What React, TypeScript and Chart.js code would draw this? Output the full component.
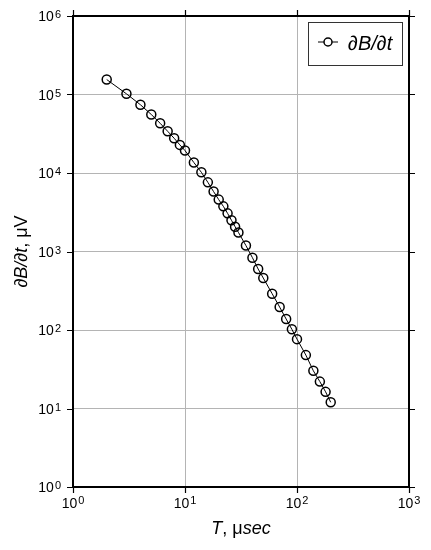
import React, { useEffect, useRef } from "react";
import { Chart, registerables } from "chart.js";

Chart.register(...registerables);

const seriesLabel = "∂B/∂t";
const timeValues = [2, 3, 4, 5, 6, 7, 8, 9, 10, 12, 14, 16, 18, 20, 22, 24, 26, 28, 30, 35, 40, 45, 50, 60, 70, 80, 90, 100, 120, 140, 160, 180, 200];
const dbdtValues = [155000, 102000, 74000, 55600, 43000, 34000, 27700, 22800, 19300, 13600, 10200, 7600, 5800, 4580, 3760, 3060, 2500, 2070, 1750, 1190, 834, 598, 459, 290, 196, 138, 102, 76.5, 47.9, 30.2, 22, 16.3, 12];
const xTickValues = [1, 10, 100, 1000];
const yTickValues = [1, 10, 100, 1000, 10000, 100000, 1000000];

const FONT = '"Liberation Sans", Helvetica, Arial, sans-serif';

function drawSegments(ctx: CanvasRenderingContext2D, segs: [string, string][], x: number, y: number, center: boolean) {
  let total = 0;
  for (const [t, f] of segs) {
    ctx.font = f;
    total += ctx.measureText(t).width;
  }
  let cx = center ? x - total / 2 : x;
  ctx.textAlign = "left";
  for (const [t, f] of segs) {
    ctx.font = f;
    ctx.fillText(t, cx, y);
    cx += ctx.measureText(t).width;
  }
}

const decorPlugin = {
  id: "decor",
  afterDraw(chart: any) {
    const ctx: CanvasRenderingContext2D = chart.ctx;
    const { left, right, top, bottom } = chart.chartArea;
    const xs = chart.scales.x;
    const ys = chart.scales.y;
    ctx.save();
    ctx.fillStyle = "#000";
    ctx.strokeStyle = "#000";
    // ticks
    ctx.lineWidth = 1.2;
    ctx.beginPath();
    for (const v of xTickValues) {
      const px = Math.round(xs.getPixelForValue(v)) + 0.5;
      ctx.moveTo(px, bottom);
      ctx.lineTo(px, bottom + 6);
      ctx.moveTo(px, top);
      ctx.lineTo(px, top - 6);
    }
    for (const v of yTickValues) {
      const py = Math.round(ys.getPixelForValue(v)) + 0.5;
      ctx.moveTo(left, py);
      ctx.lineTo(left - 6, py);
      ctx.moveTo(right, py);
      ctx.lineTo(right + 6, py);
    }
    ctx.stroke();
    // frame
    ctx.lineWidth = 2;
    ctx.strokeRect(left, top, right - left, bottom - top);

    // tick labels
    ctx.textBaseline = "alphabetic";
    const main = `14px ${FONT}`;
    const sup = `11px ${FONT}`;
    for (const v of xTickValues) {
      const px = xs.getPixelForValue(v);
      const e = String(Math.round(Math.log10(v)));
      ctx.font = main;
      const w1 = ctx.measureText("10").width;
      ctx.font = sup;
      const w2 = ctx.measureText(e).width;
      const x0 = px - (w1 + 1 + w2) / 2;
      ctx.font = main;
      ctx.textAlign = "left";
      ctx.fillText("10", x0, 508);
      ctx.font = sup;
      ctx.fillText(e, x0 + w1 + 1, 504);
    }
    for (const v of yTickValues) {
      const py = ys.getPixelForValue(v);
      const e = String(Math.round(Math.log10(v)));
      ctx.font = sup;
      const w2 = ctx.measureText(e).width;
      ctx.textAlign = "left";
      ctx.fillText(e, 61 - w2, py + 2);
      ctx.font = main;
      ctx.textAlign = "right";
      ctx.fillText("10", 61 - w2 - 1, py + 5);
    }

    // x title
    ctx.textBaseline = "alphabetic";
    const it = `italic 18px ${FONT}`;
    const nm = `18px ${FONT}`;
    drawSegments(ctx, [["T", it], [", ", nm], ["μ", nm], ["sec", it]], (left + right) / 2, 534, true);
    // y title
    ctx.save();
    ctx.translate(27, (top + bottom) / 2);
    ctx.rotate(-Math.PI / 2);
    drawSegments(ctx, [["∂B/∂t", it], [", ", nm], ["μV", nm]], 0, 0, true);
    ctx.restore();

    // legend
    const lx = 308, ly = 22, lw = 94, lh = 43;
    ctx.fillStyle = "#fff";
    ctx.fillRect(lx, ly, lw, lh);
    ctx.strokeStyle = "#333";
    ctx.lineWidth = 1;
    ctx.strokeRect(lx + 0.5, ly + 0.5, lw, lh);
    ctx.strokeStyle = "#000";
    ctx.beginPath();
    ctx.moveTo(318, 42);
    ctx.lineTo(338, 42);
    ctx.stroke();
    ctx.lineWidth = 1.5;
    ctx.beginPath();
    ctx.arc(328, 42, 4, 0, Math.PI * 2);
    ctx.fillStyle = "#fff";
    ctx.fill();
    ctx.stroke();
    ctx.fillStyle = "#000";
    ctx.font = `italic 20px ${FONT}`;
    ctx.textAlign = "left";
    ctx.fillText(chart.data.datasets[0].label, 348, 50);
    ctx.restore();
  },
};

export default function App() {
  const ref = useRef<HTMLCanvasElement>(null);
  useEffect(() => {
    if (!ref.current) return;
    const chart = new Chart(ref.current, {
      type: "line",
      data: {
        labels: timeValues,
        datasets: [
          {
            label: seriesLabel,
            data: timeValues.map((t, i) => ({ x: t, y: dbdtValues[i] })),
            borderColor: "#000",
            borderWidth: 1,
            pointRadius: 4.5,
            pointBorderWidth: 1.5,
            pointBorderColor: "#000",
            pointBackgroundColor: "rgba(0,0,0,0)",
            fill: false,
            tension: 0,
          },
        ],
      },
      options: {
        responsive: false,
        animation: false,
        events: [],
        layout: { padding: { top: 16, right: 22, left: 0, bottom: 0 } },
        plugins: { legend: { display: false }, tooltip: { enabled: false } },
        scales: {
          x: {
            type: "logarithmic",
            min: 1,
            max: 1000,
            afterBuildTicks: (s: any) => {
              s.ticks = xTickValues.map((v) => ({ value: v }));
            },
            afterFit: (s: any) => {
              s.height = 63;
            },
            ticks: { display: false },
            grid: { color: "#b4b4b4", lineWidth: 1, drawTicks: false },
            border: { display: false },
          },
          y: {
            type: "logarithmic",
            min: 1,
            max: 1000000,
            afterBuildTicks: (s: any) => {
              s.ticks = yTickValues.map((v) => ({ value: v }));
            },
            afterFit: (s: any) => {
              s.width = 73;
            },
            ticks: { display: false },
            grid: { color: "#b4b4b4", lineWidth: 1, drawTicks: false },
            border: { display: false },
          },
        },
      },
      plugins: [decorPlugin],
    } as any);
    return () => chart.destroy();
  }, []);
  return (
    <div style={{ position: "fixed", left: 0, top: 0, width: 431, height: 550, background: "#fff" }}>
      <canvas ref={ref} width={431} height={550} style={{ display: "block" }} />
    </div>
  );
}
